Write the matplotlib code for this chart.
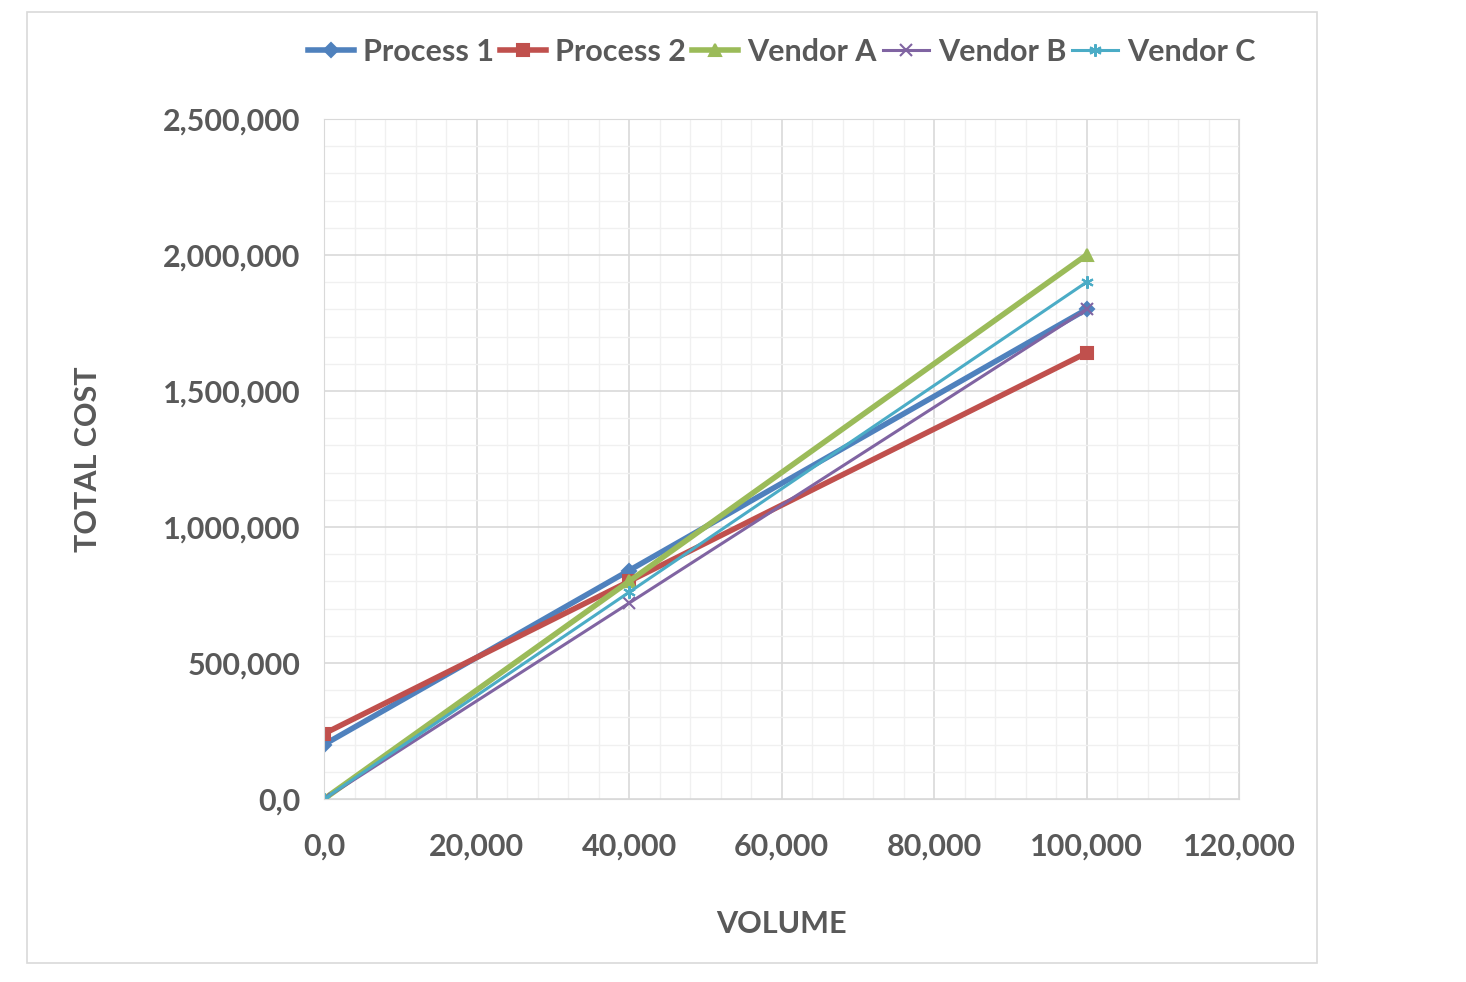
import matplotlib.pyplot as plt
from matplotlib.ticker import FuncFormatter, MultipleLocator
from matplotlib.patches import Rectangle

volume = [0, 40000, 100000]
process_1 = [200000, 840000, 1800000]
process_2 = [240000, 800000, 1640000]
vendor_a = [0, 800000, 2000000]
vendor_b = [0, 720000, 1800000]
vendor_c = [0, 760000, 1900000]

series = [
    ("Process 1", process_1, "#4F81BD", "D", 4, 7),
    ("Process 2", process_2, "#C0504D", "s", 4, 8),
    ("Vendor A", vendor_a, "#9BBB59", "^", 4, 9),
    ("Vendor B", vendor_b, "#8064A2", "x", 2.2, 8),
    ("Vendor C", vendor_c, "#4BACC6", (6, 2, 0), 2.2, 9),
]

plt.rcParams['font.family'] = ['Lato', 'DejaVu Sans']
grey = "#595959"

fig = plt.figure(figsize=(14.66, 9.82), dpi=100)
ax = fig.add_axes([324/1466, 1 - 799/982, (1239-324)/1466, (799-119)/982])

for name, vals, col, mk, lw, ms in series:
    ax.plot(volume, vals, color=col, lw=lw, marker=mk, markersize=ms,
            markeredgewidth=1.5, label=name)

def fmt(v, pos):
    if v == 0:
        return "0,0"
    return f"{int(v):,}"

ax.set_xlim(0, 120000)
ax.set_ylim(0, 2500000)
ax.xaxis.set_major_locator(MultipleLocator(20000))
ax.xaxis.set_minor_locator(MultipleLocator(4000))
ax.yaxis.set_major_locator(MultipleLocator(500000))
ax.yaxis.set_minor_locator(MultipleLocator(100000))
ax.xaxis.set_major_formatter(FuncFormatter(fmt))
ax.yaxis.set_major_formatter(FuncFormatter(fmt))
ax.grid(which="major", color="#D9D9D9", lw=1.2)
ax.grid(which="minor", color="#F0F0F0", lw=1)
ax.set_axisbelow(True)
for s in ax.spines.values():
    s.set_color("#D9D9D9")
ax.tick_params(which="both", length=0, labelsize=22, labelcolor=grey)
ax.tick_params(axis="x", pad=24)
ax.tick_params(axis="y", pad=17)
for t in ax.get_xticklabels() + ax.get_yticklabels():
    t.set_fontweight("bold")

ax.set_xlabel("VOLUME", fontsize=22, color=grey, fontweight="bold", labelpad=36)
ax.set_ylabel("TOTAL COST", fontsize=22, color=grey, fontweight="bold", labelpad=44)

fig.legend(loc="center", bbox_to_anchor=(782/1466, 1 - 52/982), ncol=5,
           frameon=False, handlelength=1.5, handletextpad=0.3,
           columnspacing=0.2, labelcolor=grey,
           prop={'weight': 'bold', 'size': 22})

fig.patches.append(Rectangle((27/1466, 1 - 963/982), (1317-27)/1466, (963-12)/982,
                             transform=fig.transFigure, fill=False,
                             edgecolor="#D9D9D9", lw=1.2))

fig.savefig("out.png", dpi=100, facecolor="white")
